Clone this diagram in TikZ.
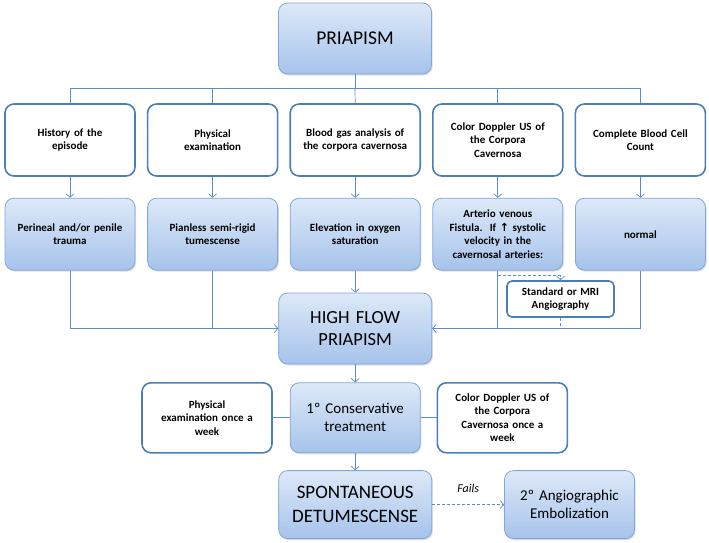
\documentclass[tikz,border=0pt]{standalone}
\usepackage{fontspec}
\setmainfont{Carlito}
\newfontfamily\symfont{DejaVu Sans}
\usetikzlibrary{positioning, calc, arrows.meta, shadows}
\newcommand{\smallfont}{\bfseries\fontsize{11}{13.4}\selectfont}
\newcommand{\bigfont}{\fontsize{18.5}{22}\selectfont}
\newcommand{\titlefont}{\fontsize{19.5}{22}\selectfont}
\newcommand{\midfont}{\fontsize{15}{18}\selectfont}
\definecolor{edgeblue}{HTML}{4A7EBB}
\definecolor{lineblue}{HTML}{5B8DCB}
\definecolor{softedge}{HTML}{7FA7D9}
\definecolor{filltop}{HTML}{DDE9F8}
\definecolor{fillbottom}{HTML}{A6C3EB}

\begin{document}
\begin{tikzpicture}[align=center, x=1pt, y=-1pt, node distance=12pt]
       \useasboundingbox (0,0) rectangle (709,542);
       \tikzstyle{testbox} = [
            rectangle,
            draw=edgeblue,
            line width=1.6pt,
            fill=white,
            rounded corners=9pt,
            inner sep=3pt,
            text width=124pt,
            minimum height=72pt,
            font=\smallfont
       ]
       \tikzstyle{findbox} = [
            rectangle,
            draw=softedge,
            line width=0.8pt,
            top color=filltop,
            bottom color=fillbottom,
            rounded corners=9pt,
            inner sep=3pt,
            text width=124pt,
            minimum height=72pt,
            font=\smallfont,
            drop shadow={opacity=0.25, shadow xshift=1.2pt, shadow yshift=-1.5pt}
       ]
       \tikzstyle{stagebox} = [
            findbox,
            text width=147pt,
            minimum height=71pt,
            font=\bigfont
       ]
       \tikzstyle{mribox} = [
            rectangle,
            draw=edgeblue,
            line width=1.6pt,
            fill=white,
            rounded corners=5pt,
            inner sep=2pt,
            text width=103pt,
            minimum height=36pt,
            font=\smallfont
       ]
       \tikzstyle{link} = [lineblue, line width=0.7pt]
       \tikzstyle{arrow} = [link, -{Straight Barb[length=3.5pt, width=8pt]}]
       \tikzstyle{dashlink} = [link, densely dashed]
       \tikzstyle{dasharrow} = [arrow, densely dashed]

       \node (priapism) at (355,38.5) [stagebox, font=\titlefont] {PRIAPISM};

       \node (history) at (70,140) [testbox] {History of the\\episode};
       \node (physical) [testbox, right=11pt of history] {Physical\\examination};
       \node (bloodgas) [testbox, right=11pt of physical] {Blood gas analysis of\\the corpora cavernosa};
       \node (doppler) [testbox, right=11pt of bloodgas] {Color Doppler US of\\the Corpora\\Cavernosa};
       \node (bloodcount) [testbox, right=11pt of doppler] {Complete Blood Cell\\Count};

       \node (trauma) [findbox, below=21pt of history] {Perineal and/or penile\\trauma};
       \node (tumescense) [findbox, below=21pt of physical] {Pianless semi-rigid\\tumescense};
       \node (oxygen) [findbox, below=21pt of bloodgas] {Elevation in oxygen\\saturation};
       \node (fistula) [findbox, below=21pt of doppler] {Arterio venous\\Fistula.\ \ If {\symfont\bfseries ↑} systolic\\velocity in the\\cavernosal arteries:};
       \node (normal) [findbox, below=21pt of bloodcount] {normal};

       \node (mri) at (560.5,299) [mribox] {Standard or MRI\\Angiography};

       \node (highflow) [stagebox, below=22pt of oxygen] {HIGH FLOW\\PRIAPISM};
       \node (conservative) [findbox, minimum height=70pt, below=18pt of highflow, font=\midfont] {1º Conservative\\treatment};
       \node (physweek) [testbox, minimum height=70pt, left=17pt of conservative] {Physical\\examination once a\\week};
       \node (dopweek) [testbox, minimum height=70pt, right=16pt of conservative] {Color Doppler US of\\the Corpora\\Cavernosa once a\\week};
       \node (spontaneous) [stagebox, minimum height=68pt, below=17pt of conservative, font=\fontsize{19}{24}\selectfont] {SPONTANEOUS\\DETUMESCENSE};
       \node (embolization) [findbox, minimum height=68pt, right=72pt of spontaneous, font=\midfont] {2º Angiographic\\Embolization};

       % top bus
       \coordinate (bus) at ($(priapism.south)+(0,14)$);
       \draw[link] (priapism) -- (bus);
       \draw[link] (bus) -| (history.north);
       \draw[link] (bus) -| (physical.north);
       \draw[link] (bus) -- (bloodgas.north);
       \draw[link] (bus) -| (doppler.north);
       \draw[link] (bus) -| (bloodcount.north);

       \draw[arrow] (history) -- (trauma);
       \draw[arrow] (physical) -- (tumescense);
       \draw[arrow] (bloodgas) -- (oxygen);
       \draw[arrow] (doppler) -- (fistula);
       \draw[arrow] (bloodcount) -- (normal);

       % into high flow
       \draw[arrow] (trauma.south) |- (highflow.west);
       \draw[link] (tumescense.south) -- (tumescense.south |- highflow.west);
       \draw[arrow] (oxygen) -- (highflow);
       \draw[link] (fistula.south) -- (fistula.south |- highflow.east);
       \draw[arrow] (normal.south) |- (highflow.east);
       \coordinate (tap) at ($(fistula.south)+(0,5)$);
       \draw[dasharrow] (tap) -| (mri.north);
       \draw[dashlink] (mri.south) -- (mri.south |- highflow.east);

       % treatment
       \draw[arrow] (highflow) -- (conservative);
       \draw[link] (physweek) -- (conservative);
       \draw[link] (conservative) -- (dopweek);
       \draw[arrow] (conservative) -- (spontaneous);
       \draw[dasharrow] (spontaneous) -- node (fails) [above=8pt, text=black, font=\itshape\fontsize{12}{14}\selectfont] {Fails} (embolization);
\end{tikzpicture}
\end{document}
